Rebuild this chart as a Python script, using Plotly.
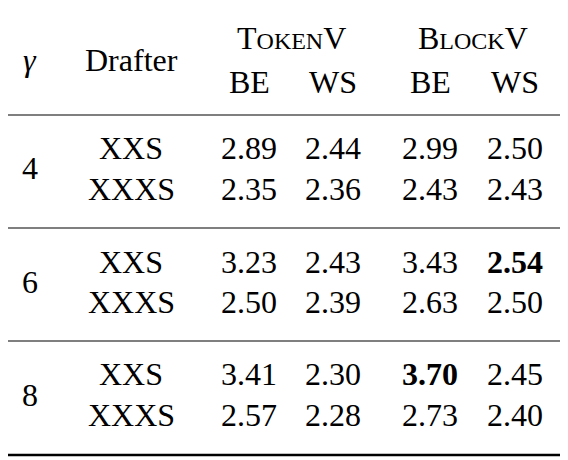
import plotly.graph_objects as go

gammas = ["4", "6", "8"]
drafters = ["XXS", "XXXS"]
groups = ["TokenV", "BlockV"]
subcols = ["BE", "WS"]
values = [
    ["2.89", "2.44", "2.99", "2.50"],
    ["2.35", "2.36", "2.43", "2.43"],
    ["3.23", "2.43", "3.43", "2.54"],
    ["2.50", "2.39", "2.63", "2.50"],
    ["3.41", "2.30", "3.70", "2.45"],
    ["2.57", "2.28", "2.73", "2.40"],
]
bold = {(2, 3), (4, 2)}

W, H = 568, 460
OFF = -8
FONT = "Liberation Serif"
FS = 32
fig = go.Figure()

def px(x, y):
    return x / W, 1 - (y + OFF) / H

def text(x, y, t, xanchor="center", size=FS):
    xx, yy = px(x, y)
    fig.add_annotation(x=xx, y=yy, xref="paper", yref="paper", text=t, showarrow=False,
                       xanchor=xanchor, yanchor="middle",
                       font=dict(family=FONT, size=size, color="black"))

def rule(y, w):
    _, yy = px(0, y)
    fig.add_shape(type="line", xref="paper", yref="paper", x0=0, x1=1, y0=yy, y1=yy,
                  line=dict(color="black", width=w))

def smallcaps(s):
    return s[0] + "<span style='font-size:24px'>" + s[1:-1].upper() + "</span>" + s[-1]

rule(3, 2.5); rule(115, 1.2); rule(228, 1.2); rule(341, 1.2); rule(455, 2.5)

text(22, 60, "<i>γ</i>")
text(123, 60, "Drafter")
text(283, 38, smallcaps(groups[0]))
text(465, 38, smallcaps(groups[1]))
colx = [241, 325, 422, 507]
for i, x in enumerate(colx):
    text(x, 82, subcols[i % 2])

rowy = [148, 189, 262, 302, 374, 415]
for gi, g in enumerate(gammas):
    text(12, (rowy[2 * gi] + rowy[2 * gi + 1]) / 2, g, xanchor="left")
for r, vals in enumerate(values):
    text(123, rowy[r], drafters[r % 2])
    for c, v in enumerate(vals):
        text(colx[c], rowy[r], f"<b>{v}</b>" if (r, c) in bold else v)

fig.update_layout(width=W, height=H, margin=dict(l=0, r=0, t=0, b=0),
                  plot_bgcolor="white", paper_bgcolor="white",
                  xaxis=dict(visible=False), yaxis=dict(visible=False))
fig.write_html("out.html")
